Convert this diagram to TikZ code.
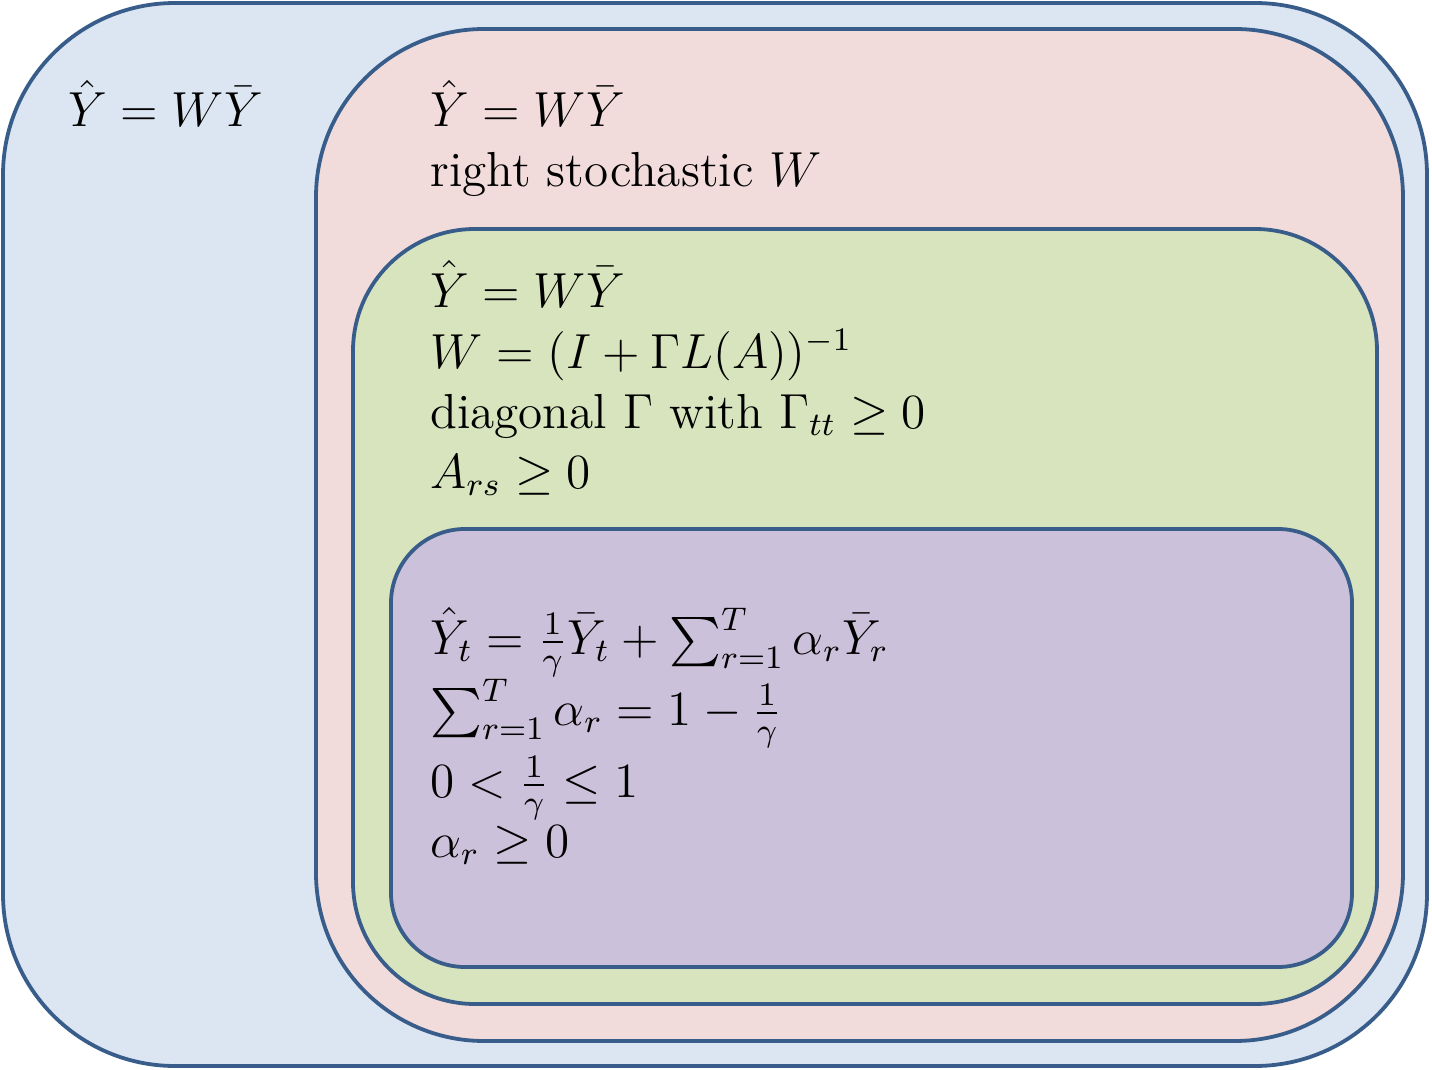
\documentclass[tikz,border=0pt]{standalone}
\usepackage{amsmath}
\definecolor{bluefill}{HTML}{DCE6F2}
\definecolor{pinkfill}{HTML}{F2DCDB}
\definecolor{greenfill}{HTML}{D7E4BD}
\definecolor{purplefill}{HTML}{CCC1DA}
\definecolor{edge}{HTML}{385D8A}
\newcommand{\bigtxt}[1]{\scalebox{2.05}{#1}}
\tikzset{
  setbox/.style={draw=edge, line width=1.9pt},
  lbl/.style={anchor=base west, inner sep=0pt, font=\fontsize{12}{14}\selectfont, text=black},
}
\begin{document}
\begin{tikzpicture}[x=0.5pt,y=-0.5pt]
\useasboundingbox (0,0) rectangle (1432,1070);
\draw[setbox, fill=bluefill, rounded corners=86pt] (3,3) rectangle (1427,1066);
\draw[setbox, fill=pinkfill, rounded corners=84pt] (316,29) rectangle (1403,1041);
\draw[setbox, fill=greenfill, rounded corners=61pt] (353,229) rectangle (1377,1004);
\draw[setbox, fill=purplefill, rounded corners=37pt] (391,529) rectangle (1352,967);

\node[lbl] (b1) at (68,127) {\bigtxt{$\hat{Y} = W\bar{Y}$}};

\node[lbl] (p1) at (430,127) {\bigtxt{$\hat{Y} = W\bar{Y}$}};
\node[lbl] (p2) at (430,187) {\bigtxt{right stochastic $W$}};

\node[lbl] (g1) at (430,307) {\bigtxt{$\hat{Y} = W\bar{Y}$}};
\node[lbl] (g2) at (430,368) {\bigtxt{$W = (I+\Gamma L(A))^{-1}$}};
\node[lbl] (g3) at (430,428) {\bigtxt{diagonal $\Gamma$ with $\Gamma_{tt}\geq 0$}};
\node[lbl] (g4) at (430,488) {\bigtxt{$A_{rs}\geq 0$}};

\node[lbl] (v1) at (430,654) {\bigtxt{$\hat{Y}_t = \frac{1}{\gamma}\bar{Y}_t + \sum_{r=1}^{T}\alpha_r\bar{Y}_r$}};
\node[lbl] (v2) at (430,725) {\bigtxt{$\sum_{r=1}^{T}\alpha_r = 1-\frac{1}{\gamma}$}};
\node[lbl] (v3) at (430,797) {\bigtxt{$0<\frac{1}{\gamma}\leq 1$}};
\node[lbl] (v4) at (430,857) {\bigtxt{$\alpha_r\geq 0$}};
\end{tikzpicture}
\end{document}
